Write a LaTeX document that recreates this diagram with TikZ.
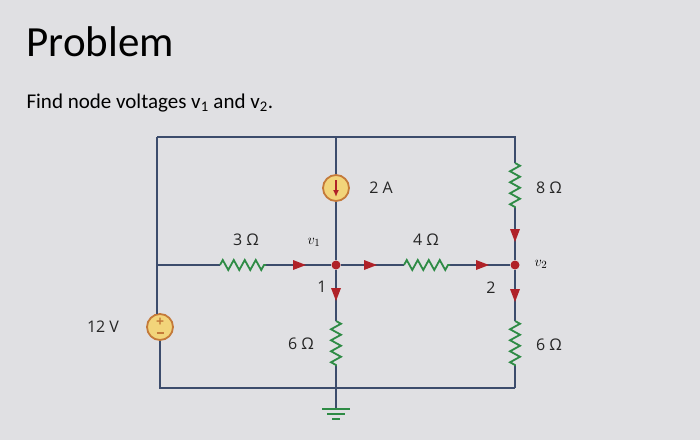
\documentclass[tikz,border=0pt]{standalone}
\usepackage{fontspec}
\setmainfont{Carlito}
\newfontfamily\lblfont{Open Sans}
\usetikzlibrary{decorations.pathmorphing,arrows.meta}
\definecolor{bg}{HTML}{E0E0E3}
\definecolor{wire}{HTML}{3C4C6C}
\definecolor{res}{HTML}{2E8B45}
\definecolor{arr}{HTML}{B02228}
\definecolor{srcfill}{HTML}{F2D47A}
\definecolor{srcedge}{HTML}{C47A3A}
\begin{document}
\begin{tikzpicture}[x=1pt,y=-1pt,
  w/.style={draw=wire,line width=1.8pt},
  rz/.style={draw=res,line width=1.8pt,decorate,decoration={zigzag,segment length=11pt,amplitude=5pt}},
  fl/.style={fill=arr,draw=none},
  lbl/.style={font=\lblfont\fontsize{16}{17}\selectfont,text=black!85},
  src/.style={circle,draw=srcedge,line width=1.8pt,fill=srcfill,minimum size=26pt,inner sep=0pt},
  dot/.style={circle,fill=arr,inner sep=0pt,minimum size=9pt}]
\fill[bg] (0,0) rectangle (700,440);
\useasboundingbox (0,0) rectangle (700,440);
\node[anchor=west,font=\fontsize{43}{45}\selectfont] (title) at (23,42) {Problem};
\node[anchor=west,font=\fontsize{21}{23}\selectfont] (txt) at (23,103) {Find node voltages v\textsubscript{1} and v\textsubscript{2}.};
\coordinate (TL) at (157,137); \coordinate (TM) at (336,137); \coordinate (TR) at (515,137);
\coordinate (ML) at (157,265); \coordinate (BL) at (160,388); \coordinate (BM) at (336,388); \coordinate (BR) at (515,388);
\node[dot] (v1) at (336,265) {};
\node[dot] (v2) at (515,265) {};
\node[src] (cs) at (336,188) {};
\node[src] (vs) at (160,327) {};
\coordinate (r3a) at (220,265); \coordinate (r3b) at (266,265);
\coordinate (r4a) at (404,265); \coordinate (r4b) at (450,265);
\coordinate (r8a) at (515,163); \coordinate (r8b) at (515,208);
\coordinate (r6a) at (336,321); \coordinate (r6b) at (336,366);
\coordinate (r6ra) at (515,321); \coordinate (r6rb) at (515,366);
\coordinate (g) at (336,409);
\draw[w] (TL) -- (TR) -- (r8a);
\draw[w] (TL) -- (157,314);
\draw[w] (TM) -- (cs.north);
\draw[w] (cs.south) -- (v1);
\draw[w] (r8b) -- (v2);
\draw[w] (ML) -- (r3a); \draw[w] (r3b) -- (v1) -- (r4a); \draw[w] (r4b) -- (v2);
\draw[w] (v1) -- (r6a); \draw[w] (r6b) -- (BM);
\draw[w] (v2) -- (r6ra); \draw[w] (r6rb) -- (BR);
\draw[w] (vs.south) -- (BL) -- (BR);
\draw[w] (BM) -- (g);
\draw[res,line width=2.2pt] ([xshift=-14pt]g) -- ([xshift=14pt]g);
\draw[res,line width=2.2pt] ([xshift=-9pt,yshift=-5pt]g) -- ([xshift=9pt,yshift=-5pt]g);
\draw[res,line width=2.2pt] ([xshift=-4pt,yshift=-10pt]g) -- ([xshift=4pt,yshift=-10pt]g);
\draw[rz] (r3a) -- (r3b);
\draw[rz] (r4a) -- (r4b);
\draw[rz] (r8a) -- (r8b);
\draw[rz] (r6a) -- (r6b);
\draw[rz] (r6ra) -- (r6rb);
\draw[arr,line width=2pt,-{Latex[length=7pt,width=6pt]}] ([yshift=8pt]cs.center) -- ([yshift=-9pt]cs.center);
\node[font=\lblfont\fontsize{14}{14}\selectfont\bfseries,text=srcedge] at ([yshift=5pt]vs.center) {+};
\draw[srcedge,line width=1.4pt] ([xshift=-3.5pt,yshift=-6pt]vs.center) -- ([xshift=3.5pt,yshift=-6pt]vs.center);
\fill[fl] (306,265) -- (293,260) -- (293,270) -- cycle;
\fill[fl] (377,265) -- (364,260) -- (364,270) -- cycle;
\fill[fl] (489,265) -- (476,260) -- (476,270) -- cycle;
\fill[fl] (336,301) -- (331,288) -- (341,288) -- cycle;
\fill[fl] (515,302) -- (510,289) -- (520,289) -- cycle;
\fill[fl] (515,242) -- (510,229) -- (520,229) -- cycle;
\node[lbl] (l3) at (246,240) {3 Ω};
\node[lbl] (l4) at (426,240) {4 Ω};
\node[lbl] (l2A) at (381,188) {2 A};
\node[lbl] (l8) at (549,188) {8 Ω};
\node[lbl] (l6m) at (301,344) {6 Ω};
\node[lbl] (l6r) at (549,345) {6 Ω};
\node[lbl] (l12) at (103,327) {12 V};
\node[lbl] (n1) at (322,287) {1};
\node[lbl] (n2) at (491,288) {2};
\node[font=\fontsize{15}{15}\selectfont] (lv1) at (314,242) {$v_1$};
\node[font=\fontsize{15}{15}\selectfont] (lv2) at (541,264) {$v_2$};
\end{tikzpicture}
\end{document}
